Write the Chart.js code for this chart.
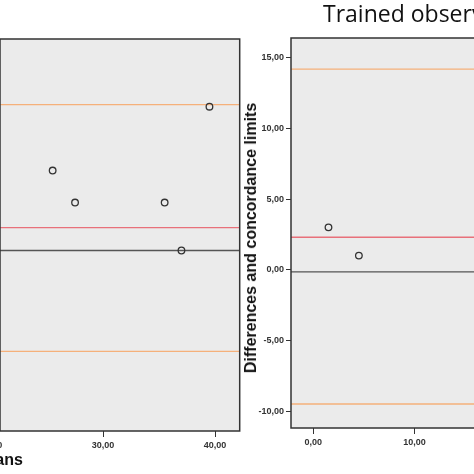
<!DOCTYPE html>
<html><head><meta charset="utf-8">
<script src="https://cdn.jsdelivr.net/npm/chart.js@4/dist/chart.umd.min.js"></script>
<style>
  body { margin:0; width:474px; height:474px; overflow:hidden; position:relative; background:#fff; font-family:"Liberation Sans", Arial, sans-serif; }
  canvas { position:absolute; }
  #leftWrap { position:absolute; left:-40px; top:0; width:285px; height:474px; }
  #rightWrap { position:absolute; left:230px; top:0; width:300px; height:474px; }
  .txt { position:absolute; white-space:nowrap; color:#111; }
</style></head>
<body>
<div id="leftWrap"><canvas id="left"></canvas></div>
<div id="rightWrap"><canvas id="right"></canvas></div>
<div class="txt" style="left:323px; top:-3px; font-size:23px; font-family:'Open Sans', sans-serif;">Trained observers</div>
<div class="txt" style="left:-27px; top:451px; font-size:16px; font-weight:bold;">Means</div>
<div class="txt" style="left:251px; top:238px; font-size:16px; font-weight:bold; transform:translate(-50%,-50%) rotate(-90deg);">Differences and concordance limits</div>
<script>
// ---------- left panel (clipped) ----------
const LEFT_X = [25.5, 27.5, 35.5, 37.0, 39.5];
const LEFT_Y = [5.67, 3.4, 3.4, 0.0, 10.2];
const LEFT_UPPER = 10.35, LEFT_MEAN = 1.63, LEFT_ZERO = 0, LEFT_LOWER = -7.16;
const LEFT_XTICKS = [20, 30, 40];

// ---------- right panel (clipped) ----------
const RIGHT_X = [1.5, 4.5];
const RIGHT_Y = [3.0, 1.0];
const RIGHT_UPPER = 14.2, RIGHT_MEAN = 2.3, RIGHT_ZERO = -0.15, RIGHT_LOWER = -9.5;
const RIGHT_XTICKS = [0, 10, 20];
const RIGHT_YTICKS = [-10, -5, 0, 5, 10, 15];

const fmt = (v) => v.toFixed(2).replace('.', ',');

const panelBg = {
  id: 'panelBg',
  beforeDraw(c) {
    const a = c.chartArea, g = c.ctx;
    g.save();
    g.fillStyle = '#ebebeb';
    g.fillRect(a.left, a.top, a.right - a.left, a.bottom - a.top);
    g.restore();
  },
  afterDraw(c) {
    const a = c.chartArea, g = c.ctx;
    g.save();
    g.strokeStyle = '#333';
    g.lineWidth = 1.5;
    g.strokeRect(a.left, a.top, a.right - a.left, a.bottom - a.top);
    g.restore();
  }
};

function hline(y, xmin, xmax, color) {
  return { type: 'line', data: [{x: xmin, y}, {x: xmax, y}], borderColor: color,
           borderWidth: 1.3, pointRadius: 0, order: 2 };
}

function makeChart(id, o) {
  const datasets = [
    hline(o.upper, o.xmin, o.xmax, '#f5b07a'),
    hline(o.mean, o.xmin, o.xmax, '#e8707a'),
    hline(o.zero, o.xmin, o.xmax, '#555'),
    hline(o.lower, o.xmin, o.xmax, '#f5b07a'),
    { type: 'scatter', data: o.xs.map((x, i) => ({x, y: o.ys[i]})), pointRadius: 3.3,
      pointBorderWidth: 1.3, pointBorderColor: '#333', pointBackgroundColor: 'transparent', order: 1 },
  ];
  const tickFont = { size: 9, weight: 'bold', family: 'Liberation Sans' };
  return new Chart(document.getElementById(id), {
    type: 'scatter',
    data: { datasets },
    plugins: [panelBg],
    options: {
      responsive: true, maintainAspectRatio: false, animation: false,
      layout: { padding: { top: o.top, left: o.padLeft, right: 0 } },
      plugins: { legend: { display: false }, tooltip: { enabled: false } },
      scales: {
        x: {
          type: 'linear', min: o.xmin, max: o.xmax,
          afterBuildTicks: (s) => { s.ticks = o.xticks.map(v => ({ value: v })); },
          afterFit: (s) => { s.height = o.xh; },
          ticks: { callback: fmt, color: '#333', font: tickFont, maxRotation: 0, padding: 3 },
          grid: { drawOnChartArea: false, tickLength: 6, color: '#333' },
          border: { display: false },
        },
        y: {
          display: o.yticks ? true : false,
          min: o.ymin, max: o.ymax,
          afterBuildTicks: (s) => { if (o.yticks) s.ticks = o.yticks.map(v => ({ value: v })); },
          afterFit: (s) => { s.width = o.yw; },
          ticks: { callback: fmt, color: '#333', font: tickFont, padding: 2 },
          grid: { drawOnChartArea: false, tickLength: 5, color: '#333' },
          border: { display: false },
        }
      }
    }
  });
}

makeChart('left', {
  xs: LEFT_X, ys: LEFT_Y, upper: LEFT_UPPER, mean: LEFT_MEAN, zero: LEFT_ZERO, lower: LEFT_LOWER,
  xmin: 20.8, xmax: 42.2, ymin: -12.8, ymax: 15.0, xticks: LEFT_XTICKS, yticks: null,
  top: 39, padLeft: 40, xh: 43, yw: 0
});

makeChart('right', {
  xs: RIGHT_X, ys: RIGHT_Y, upper: RIGHT_UPPER, mean: RIGHT_MEAN, zero: RIGHT_ZERO, lower: RIGHT_LOWER,
  xmin: -2.2, xmax: 19.3, ymin: -11.2, ymax: 16.4, xticks: RIGHT_XTICKS, yticks: RIGHT_YTICKS,
  top: 38, padLeft: 0, xh: 46, yw: 61
});
</script>
</body></html>
